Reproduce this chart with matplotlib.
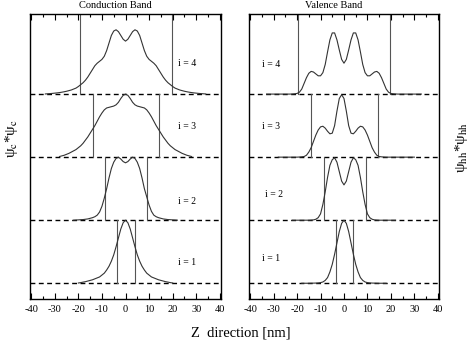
import numpy as np
import matplotlib
matplotlib.use("Agg")
import matplotlib.pyplot as plt
from matplotlib.ticker import MultipleLocator

plt.rcParams["font.family"] = ["Liberation Serif", "DejaVu Serif"]
plt.rcParams["mathtext.fontset"] = "stix"
plt.rcParams["axes.unicode_minus"] = False

# probability densities psi*psi, sampled every 1 nm, normalised to peak ~1
cb_x1 = np.arange(-20, 21)
cb_1 = [0.004, 0.01, 0.018, 0.025, 0.035, 0.045, 0.055, 0.07, 0.085, 0.10,
        0.13, 0.16, 0.21, 0.27, 0.35, 0.45, 0.58, 0.72, 0.86, 0.96,
        1.0,
        0.96, 0.86, 0.72, 0.58, 0.45, 0.35, 0.27, 0.21, 0.16, 0.13,
        0.10, 0.085, 0.07, 0.055, 0.045, 0.035, 0.025, 0.018, 0.01, 0.004]

cb_x2 = np.arange(-22, 23)
cb_2 = [0.0, 0.003, 0.005, 0.008, 0.01, 0.015, 0.02, 0.03, 0.04, 0.055, 0.08,
        0.13, 0.22, 0.35, 0.50, 0.67, 0.82, 0.92, 0.98, 1.0, 0.97, 0.93,
        0.91,
        0.93, 0.97, 1.0, 0.98, 0.92, 0.82, 0.67, 0.50, 0.37, 0.24, 0.14,
        0.08, 0.055, 0.04, 0.03, 0.02, 0.015, 0.01, 0.008, 0.005, 0.003, 0.0]

cb_x3 = np.arange(-28, 29)
cb_3 = [0.01, 0.02, 0.03, 0.045, 0.06, 0.08, 0.10, 0.12, 0.15, 0.18,
        0.22, 0.27, 0.32, 0.38, 0.44, 0.50, 0.57, 0.64, 0.70, 0.75,
        0.78, 0.79, 0.80, 0.81, 0.83, 0.87, 0.93, 0.98,
        1.0,
        0.98, 0.93, 0.87, 0.83, 0.81, 0.80, 0.79, 0.78, 0.75, 0.70,
        0.64, 0.57, 0.50, 0.44, 0.38, 0.32, 0.27, 0.22, 0.18, 0.15,
        0.12, 0.10, 0.08, 0.06, 0.045, 0.03, 0.02, 0.01]

cb_x4 = np.arange(-34, 35)
cb_4 = [0.002, 0.005, 0.008, 0.011, 0.015, 0.019, 0.024, 0.03, 0.037, 0.045,
        0.055, 0.065, 0.08, 0.095, 0.12, 0.15, 0.18, 0.22, 0.27, 0.33,
        0.39, 0.45, 0.49, 0.52, 0.55, 0.60, 0.69, 0.81, 0.93, 1.0,
        1.02, 0.99, 0.93, 0.87,
        0.84,
        0.87, 0.93, 0.99, 1.02, 1.0, 0.93, 0.81, 0.69, 0.60, 0.55,
        0.52, 0.49, 0.45, 0.39, 0.33, 0.27, 0.22, 0.18, 0.15, 0.12,
        0.095, 0.08, 0.065, 0.055, 0.045, 0.037, 0.03, 0.024, 0.019, 0.015,
        0.011, 0.008, 0.005, 0.002]

vb_x1 = np.arange(-18, 19)
vb_1 = [0.0, 0.0, 0.0, 0.0, 0.001, 0.002, 0.003, 0.005, 0.01, 0.02,
        0.045, 0.09, 0.18, 0.30, 0.46, 0.64, 0.82, 0.95,
        1.0,
        0.95, 0.82, 0.64, 0.46, 0.30, 0.18, 0.09, 0.045, 0.02, 0.01,
        0.005, 0.003, 0.002, 0.001, 0.0, 0.0, 0.0, 0.0]

vb_x2 = np.arange(-22, 23)
vb_2 = [0.0, 0.0, 0.0, 0.0, 0.0, 0.0, 0.0, 0.0, 0.002, 0.005, 0.015,
        0.04, 0.10, 0.25, 0.45, 0.68, 0.87, 0.96, 0.99, 0.92, 0.77, 0.62,
        0.56,
        0.62, 0.77, 0.92, 0.99, 0.96, 0.87, 0.68, 0.45, 0.25, 0.10,
        0.04, 0.015, 0.005, 0.002, 0.0, 0.0, 0.0, 0.0, 0.0, 0.0, 0.0, 0.0]

vb_x3 = np.arange(-28, 31)
vb_3 = [0.0, 0.0, 0.0, 0.0, 0.0, 0.0, 0.0, 0.0, 0.0, 0.002,
        0.005, 0.01, 0.03, 0.08, 0.15, 0.25, 0.35, 0.43, 0.48, 0.49,
        0.46, 0.41, 0.37, 0.38, 0.50, 0.73, 0.93,
        0.99,
        0.93, 0.73, 0.50, 0.38, 0.37, 0.41, 0.46, 0.49, 0.48, 0.43,
        0.35, 0.25, 0.15, 0.08, 0.03, 0.01, 0.005, 0.002, 0.0, 0.0,
        0.0, 0.0, 0.0, 0.0, 0.0, 0.0, 0.0, 0.0, 0.0, 0.0, 0.0]

vb_x4 = np.arange(-33, 34)
vb_4 = [0.0, 0.0, 0.0, 0.0, 0.0, 0.0, 0.0, 0.0, 0.0, 0.0,
        0.0, 0.002, 0.005, 0.01, 0.03, 0.08, 0.17, 0.26, 0.33, 0.36,
        0.35, 0.32, 0.29, 0.29, 0.34, 0.47, 0.67, 0.86, 0.97, 0.97,
        0.86, 0.70, 0.55,
        0.49,
        0.55, 0.70, 0.86, 0.97, 0.97, 0.86, 0.67, 0.47, 0.34, 0.29,
        0.29, 0.32, 0.35, 0.36, 0.33, 0.26, 0.17, 0.08, 0.03, 0.01,
        0.005, 0.002, 0.0, 0.0, 0.0, 0.0, 0.0, 0.0, 0.0, 0.0,
        0.0, 0.0, 0.0]

# well edges (nm) for each level
cb_edges = [(-3.7, 4.0), (-8.8, 9.2), (-13.9, 14.0), (-19.4, 19.6)]
vb_edges = [(-3.4, 4.0), (-8.7, 9.3), (-14.0, 14.5), (-19.5, 19.7)]
level_names = ["i = 1", "i = 2", "i = 3", "i = 4"]
cb_label_pos = [(26, 0.33), (26, 0.29), (26, 0.48), (26, 0.49)]
vb_label_pos = [(-31, 0.40), (-30, 0.41), (-31, 0.48), (-31, 0.47)]

fig = plt.figure(figsize=(4.74, 3.46), dpi=100)
ax_c = fig.add_axes([0.0633, 0.1358, 0.403, 0.8237])
ax_v = fig.add_axes([0.5253, 0.1358, 0.4008, 0.8237])

panels = [
    (ax_c, [(cb_x1, cb_1), (cb_x2, cb_2), (cb_x3, cb_3), (cb_x4, cb_4)], cb_edges, cb_label_pos),
    (ax_v, [(vb_x1, vb_1), (vb_x2, vb_2), (vb_x3, vb_3), (vb_x4, vb_4)], vb_edges, vb_label_pos),
]

ytop = 4.27
for ax, curves, edges, lpos in panels:
    for i, (xs, ys) in enumerate(curves):
        base = i
        ax.axhline(base, color="black", lw=1.0, ls=(0, (3.5, 2.5)), zorder=1)
        ax.plot(xs, np.array(ys) + base, color="#333333", lw=0.8, zorder=3)
        upper = base + 1 if i < 3 else ytop
        for e in edges[i]:
            ax.plot([e, e], [base, upper], color="#555555", lw=0.8, zorder=2)
        ax.text(lpos[i][0], base + lpos[i][1], level_names[i], fontsize=7,
                ha="center", va="center")
    ax.set_xlim(-40.5, 40.5)
    ax.set_ylim(-0.25, ytop)
    ax.set_yticks([])
    ax.xaxis.set_major_locator(MultipleLocator(10))
    ax.xaxis.set_minor_locator(MultipleLocator(5))
    ax.tick_params(axis="x", which="major", direction="in", top=True,
                   length=4, width=0.8, labelsize=7.5, pad=4)
    ax.tick_params(axis="x", which="minor", direction="in", top=True,
                   length=2.5, width=0.8)
    for s in ax.spines.values():
        s.set_linewidth(1.0)

fig.text(0.243, 0.985, "Conduction Band", fontsize=7.5, ha="center", va="center")
fig.text(0.703, 0.985, "Valence Band", fontsize=7.5, ha="center", va="center")
fig.text(0.508, 0.038, "Z  direction [nm]", fontsize=10.5, ha="center", va="center")
fig.text(0.025, 0.60, "\u03c8$_\\mathrm{c}$*\u03c8$_\\mathrm{c}$", fontsize=11,
         rotation=90, ha="center", va="center")
fig.text(0.973, 0.575, "\u03c8$_\\mathrm{hh}$*\u03c8$_\\mathrm{hh}$", fontsize=11,
         rotation=90, ha="center", va="center")

fig.savefig("out.png", dpi=100)
